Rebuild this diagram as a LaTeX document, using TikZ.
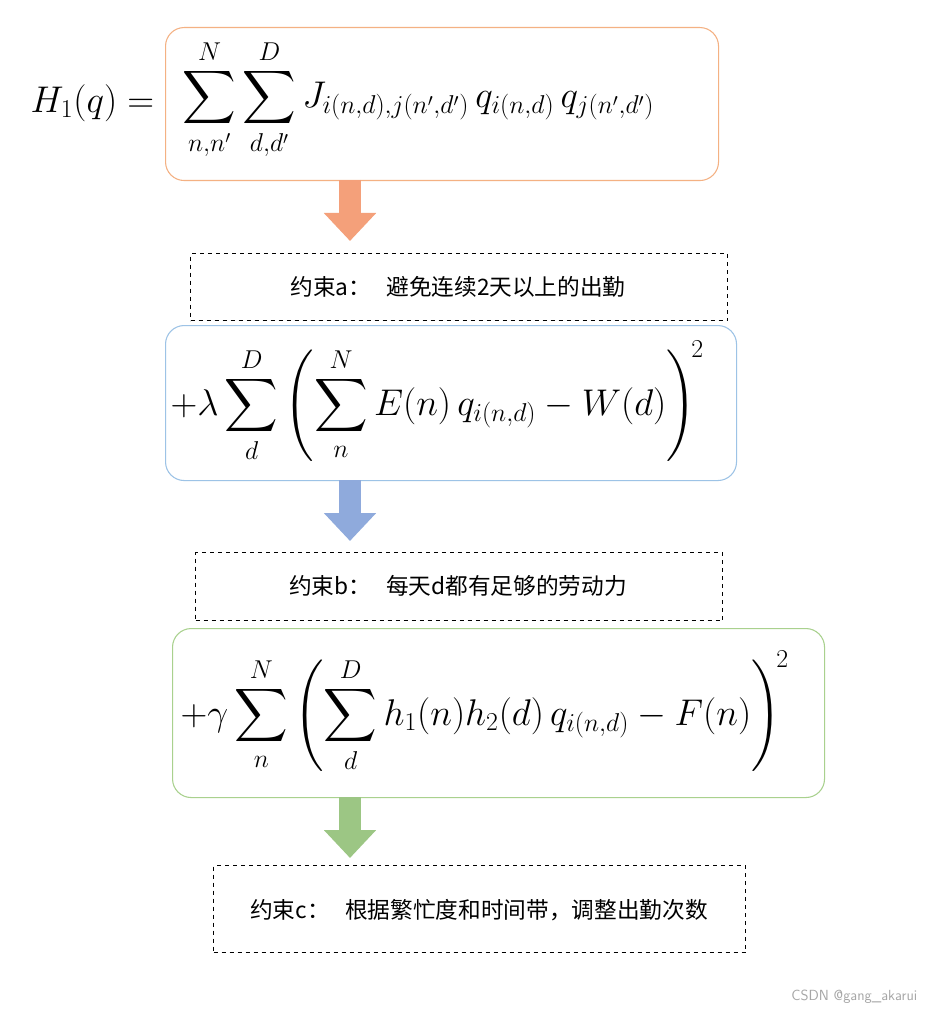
\documentclass[tikz,border=0pt]{standalone}
\usepackage{amsmath}
\usepackage{graphicx}
\usepackage{fontspec}
\newfontfamily\cjk{Noto Sans CJK SC}
\usetikzlibrary{arrows.meta, positioning}
\definecolor{borange}{HTML}{F4B183}
\definecolor{forange}{HTML}{F4A07A}
\definecolor{bblue}{HTML}{9DC3E6}
\definecolor{fblue}{HTML}{8FAADC}
\definecolor{bgreen}{HTML}{A9D18E}
\definecolor{fgreen}{HTML}{9CC684}
\newcommand\bigmath[1]{\scalebox{1.12}{$\displaystyle #1$}}
\tikzset{
  term/.style={draw, rounded corners=14pt, line width=0.8pt, anchor=north west, inner sep=0pt},
  cond/.style={draw, dashed, line width=0.8pt, anchor=north west, inner sep=0pt},
  ctext/.style={font=\cjk\fontsize{17}{20}\selectfont},
  formula/.style={anchor=west, font=\fontsize{23}{28}\selectfont},
  flow/.style={-{Triangle[width=38pt,length=21pt]}, line width=16pt}
}
\begin{document}
\begin{tikzpicture}[x=0.75pt, y=-0.75pt]
  \useasboundingbox[fill=white] (0,0) rectangle (936,1016);
  % terms
  \node [term, draw=borange, minimum width=553pt*0.75, minimum height=153pt*0.75] (hone) at (165,27) {};
  \node [term, draw=bblue, minimum width=571pt*0.75, minimum height=155pt*0.75] (htwo) at (165,325) {};
  \node [term, draw=bgreen, minimum width=652pt*0.75, minimum height=169pt*0.75] (hthree) at (172,628) {};
  % formulas
  \node [formula] (lhs) at (26,103) {\bigmath{H_1(q) =}};
  \node [formula] (fone) at (178,100) {\bigmath{\sum_{n,n'}^{N}\sum_{d,d'}^{D} J_{i(n,d),j(n',d')}\,q_{i(n,d)}\,q_{j(n',d')}}};
  \node [formula] (ftwo) at (166,402) {\bigmath{+\lambda\sum_{d}^{D}\left(\sum_{n}^{N} E(n)\,q_{i(n,d)} - W(d)\right)^{\!2}}};
  \node [formula] (fthree) at (176,712) {\bigmath{+\gamma\sum_{n}^{N}\left(\sum_{d}^{D} h_1(n)h_2(d)\,q_{i(n,d)} - F(n)\right)^{\!2}}};
  % constraints
  \node [cond, minimum width=537pt*0.75, minimum height=67pt*0.75] (ca) at (190,253) {};
  \node [ctext] (ta) at (458,287) {约束a：\ \ \ 避免连续2天以上的出勤};
  \node [cond, minimum width=527pt*0.75, minimum height=68pt*0.75] (cb) at (195,552) {};
  \node [ctext] (tb) at (458,586) {约束b：\ \ \ 每天d都有足够的劳动力};
  \node [cond, minimum width=532pt*0.75, minimum height=87pt*0.75] (cc) at (213,865) {};
  \node [ctext] (tc) at (479,910) {约束c：\ \ \ 根据繁忙度和时间带，调整出勤次数};
  % arrows
  \coordinate (aone) at (350,180);
  \coordinate (bone) at (350,241);
  \coordinate (atwo) at (350,480);
  \coordinate (btwo) at (350,541);
  \coordinate (athree) at (350,797);
  \coordinate (bthree) at (350,858);
  \draw [flow, forange] (aone) -- (bone);
  \draw [flow, fblue] (atwo) -- (btwo);
  \draw [flow, fgreen] (athree) -- (bthree);
  % watermark
  \node [anchor=east, text=gray!70, font=\fontsize{11}{13}\selectfont\sffamily] (mark) at (922,997) {CSDN @gang\_akarui};
\end{tikzpicture}
\end{document}
